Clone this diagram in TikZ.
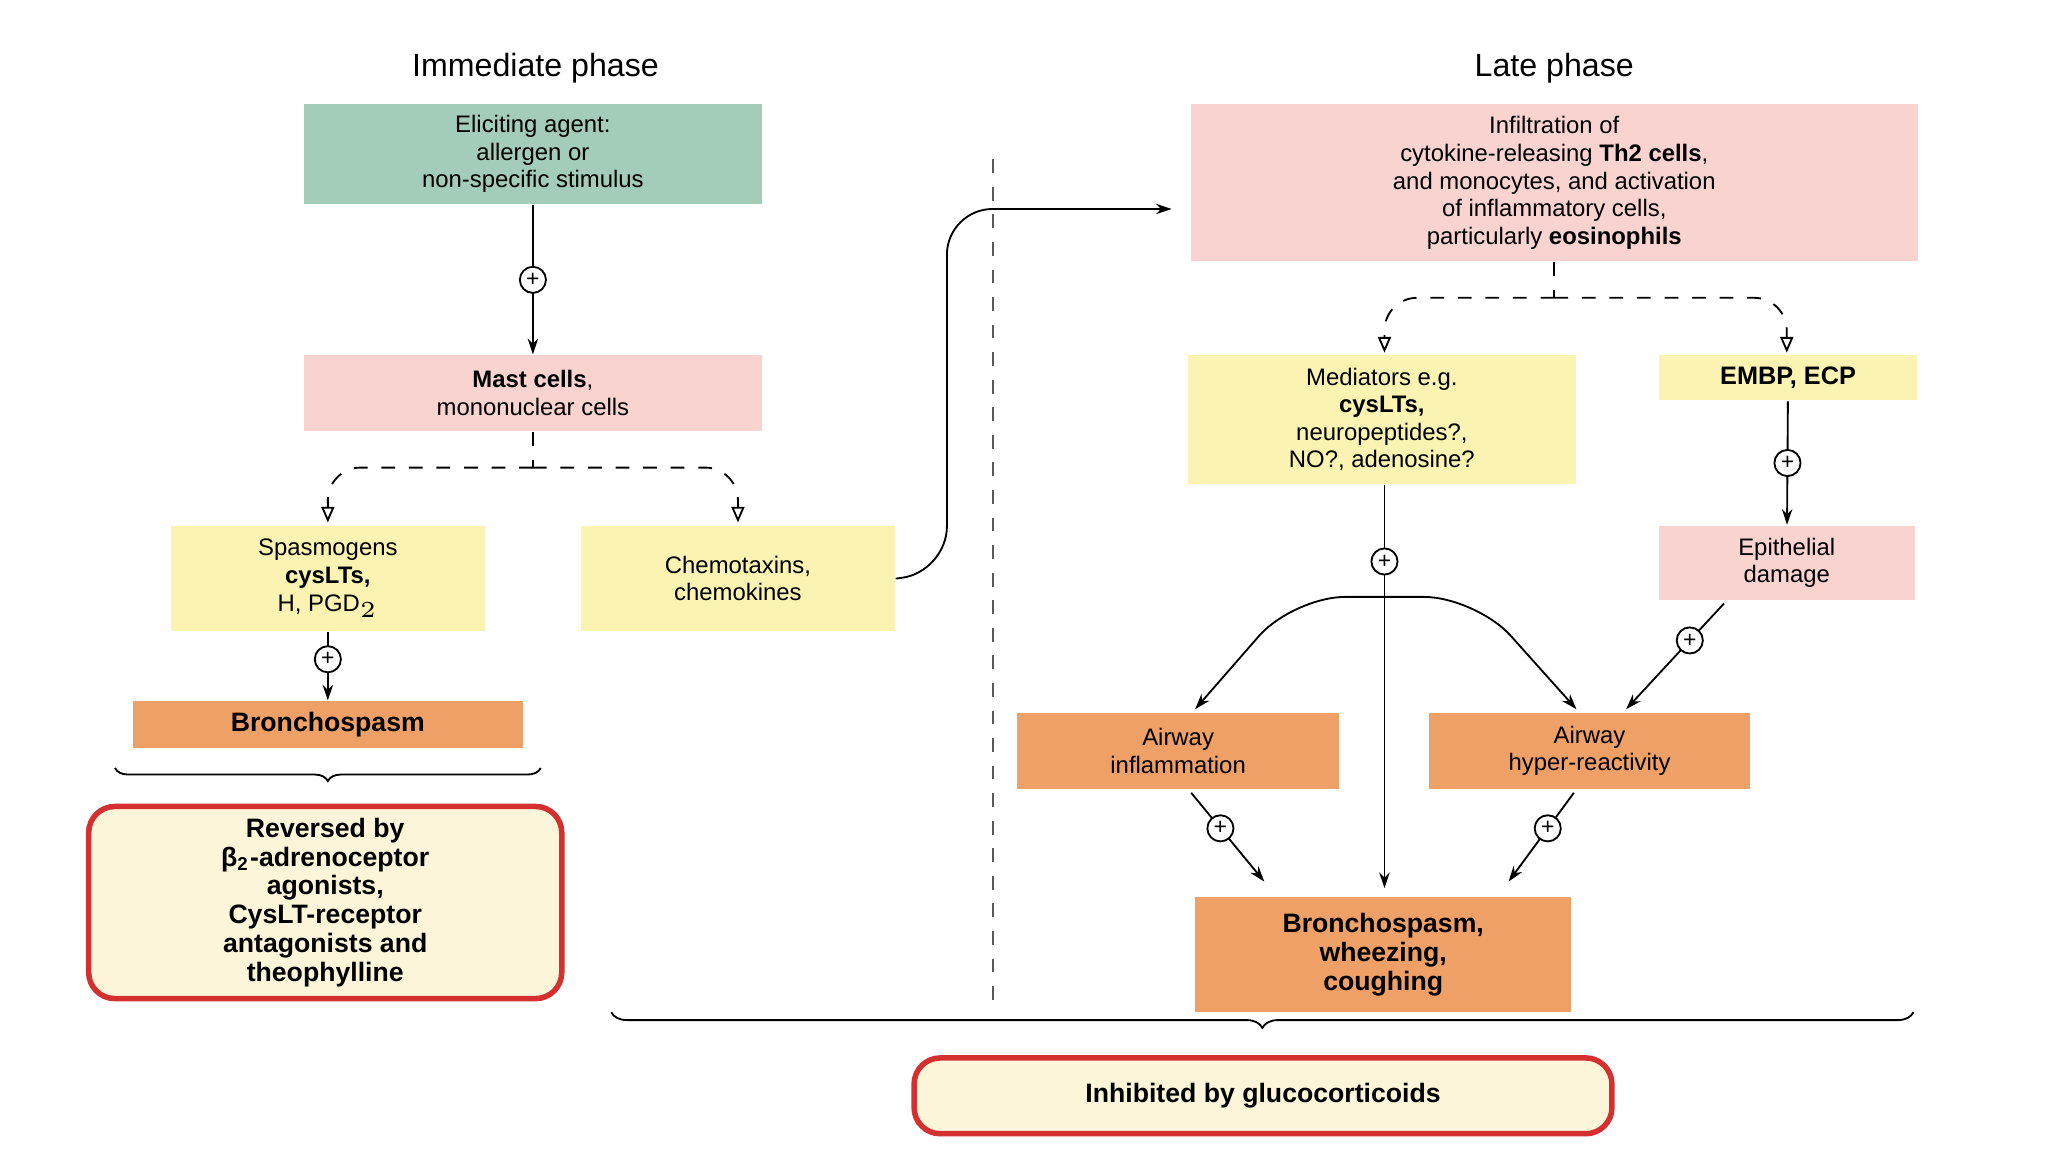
\documentclass[tikz,border=0pt]{standalone}
\usepackage{fontspec}
\setmainfont{Liberation Sans}
\usetikzlibrary{arrows.meta,decorations.pathreplacing}
\definecolor{cgreen}{HTML}{A3CDB8}
\definecolor{cpink}{HTML}{F8D3CF}
\definecolor{cyellow}{HTML}{FBF3B2}
\definecolor{corange}{HTML}{EFA066}
\definecolor{cred}{HTML}{D3302F}
\definecolor{ccream}{HTML}{FCF5DA}
\begin{document}
\begin{tikzpicture}[x=0.01cm,y=-0.01cm,
  box/.style={inner sep=0pt,align=center,font=\fontsize{5.2}{6}\selectfont},
  title/.style={font=\fontsize{7}{8}\selectfont},
  plus/.style={draw,circle,fill=white,inner sep=0pt,minimum size=0.2cm,font=\fontsize{5}{5}\selectfont},
  arr/.style={-{Stealth[length=0.12cm,width=0.08cm]},thin},
  darr/.style={dashed,thin,-{Triangle[open,length=0.12cm,width=0.1cm]},rounded corners=0.25cm},
  red box/.style={box,draw=cred,line width=1.2pt,fill=ccream,rounded corners=0.2cm,font=\bfseries\fontsize{5.8}{6.3}\selectfont}]
\useasboundingbox (0,0) rectangle (1568,882);
\node[title] (t1) at (410,52) {Immediate phase};
\node[title] (t2) at (1190,52) {Late phase};

\node[box,fill=cgreen,minimum width=3.5cm,minimum height=0.77cm] (elic) at (408,118) {Eliciting agent:\\allergen or\\non-specific stimulus};
\node[box,fill=cpink,minimum width=3.5cm,minimum height=0.58cm] (mast) at (408,301) {\textbf{Mast cells},\\mononuclear cells};
\node[box,fill=cyellow,minimum width=2.4cm,minimum height=0.8cm] (spasm) at (251,443) {Spasmogens\\\textbf{cysLTs,}\\H, PGD$_2$};
\node[box,fill=cyellow,minimum width=2.4cm,minimum height=0.8cm] (chemo) at (565,443) {Chemotaxins,\\chemokines};
\node[box,fill=corange,minimum width=2.98cm,minimum height=0.36cm,font=\bfseries\fontsize{5.8}{6.3}\selectfont] (bronch) at (251,555) {Bronchospasm};
\node[red box,minimum width=3.62cm,minimum height=1.47cm] (rev) at (249,691) {Reversed by\\β\textsubscript{2}-adrenoceptor\\agonists,\\CysLT-receptor\\antagonists and\\theophylline};

\node[box,fill=cpink,minimum width=5.56cm,minimum height=1.2cm] (infil) at (1190,140) {Infiltration of\\cytokine-releasing \textbf{Th2 cells},\\and monocytes, and activation\\of inflammatory cells,\\particularly \textbf{eosinophils}};
\node[box,fill=cyellow,minimum width=2.97cm,minimum height=0.99cm] (med) at (1058,321) {Mediators e.g.\\\textbf{cysLTs,}\\neuropeptides?,\\NO?, adenosine?};
\node[box,fill=cyellow,minimum width=1.98cm,minimum height=0.35cm,font=\bfseries\fontsize{5.5}{6}\selectfont] (embp) at (1369,289) {EMBP, ECP};
\node[box,fill=cpink,minimum width=1.96cm,minimum height=0.57cm] (epi) at (1368,431) {Epithelial\\damage};
\node[box,fill=corange,minimum width=2.46cm,minimum height=0.58cm] (ainf) at (902,575) {Airway\\inflammation};
\node[box,fill=corange,minimum width=2.45cm,minimum height=0.58cm] (ahyp) at (1217,575) {Airway\\hyper-reactivity};
\node[box,fill=corange,minimum width=2.88cm,minimum height=0.88cm,font=\bfseries\fontsize{5.8}{6.3}\selectfont] (bw) at (1059,731) {Bronchospasm,\\wheezing,\\coughing};
\node[red box,minimum width=5.34cm,minimum height=0.58cm] (inh) at (967,839) {Inhibited by glucocorticoids};

\draw[dashed,gray!70!black] (760,122) -- (760,768);

% immediate phase
\draw[arr] (elic) -- (mast) node[plus,pos=0.5] {+};
\coordinate (m1) at (408,358);
\draw[dashed,thin] (mast.south) -- (m1);
\draw[darr] (m1) -- (251,358) -- (251,400);
\draw[darr] (m1) -- (565,358) -- (565,400);
\draw[arr] (spasm) -- (bronch) node[plus,pos=0.4] {+};
\draw[arr,rounded corners=0.35cm] (chemo.east) -- (725,438) -- (725,160) -- (897,160);
\draw[decorate,decoration={brace,mirror,amplitude=0.1cm},thin] (88,588) -- (414,588);

% late phase
\coordinate (i1) at (1190,228);
\draw[dashed,thin] (infil.south) -- (i1);
\draw[darr] (i1) -- (1060,228) -- (1060,270);
\draw[darr] (i1) -- (1368,228) -- (1368,270);
\draw[arr] (med.south -| 1060,0) -- (1060,680) node[plus,pos=0.19] {+};
\coordinate (s1) at (1060,457);
\draw[arr,rounded corners=0.4cm] (s1) -- (990,457) -- (915,543);
\draw[arr,rounded corners=0.4cm] (s1) -- (1130,457) -- (1207,543);
\draw[arr] (embp) -- (epi) node[plus,pos=0.5] {+};
\draw[arr] (1320,462) -- (1245,543) node[plus,pos=0.35] {+};
\draw[arr] (912,607) -- (968,675) node[plus,pos=0.4] {+};
\draw[arr] (1205,607) -- (1155,675) node[plus,pos=0.4] {+};
\draw[decorate,decoration={brace,mirror,amplitude=0.12cm},thin] (468,775) -- (1465,775);
\end{tikzpicture}
\end{document}
